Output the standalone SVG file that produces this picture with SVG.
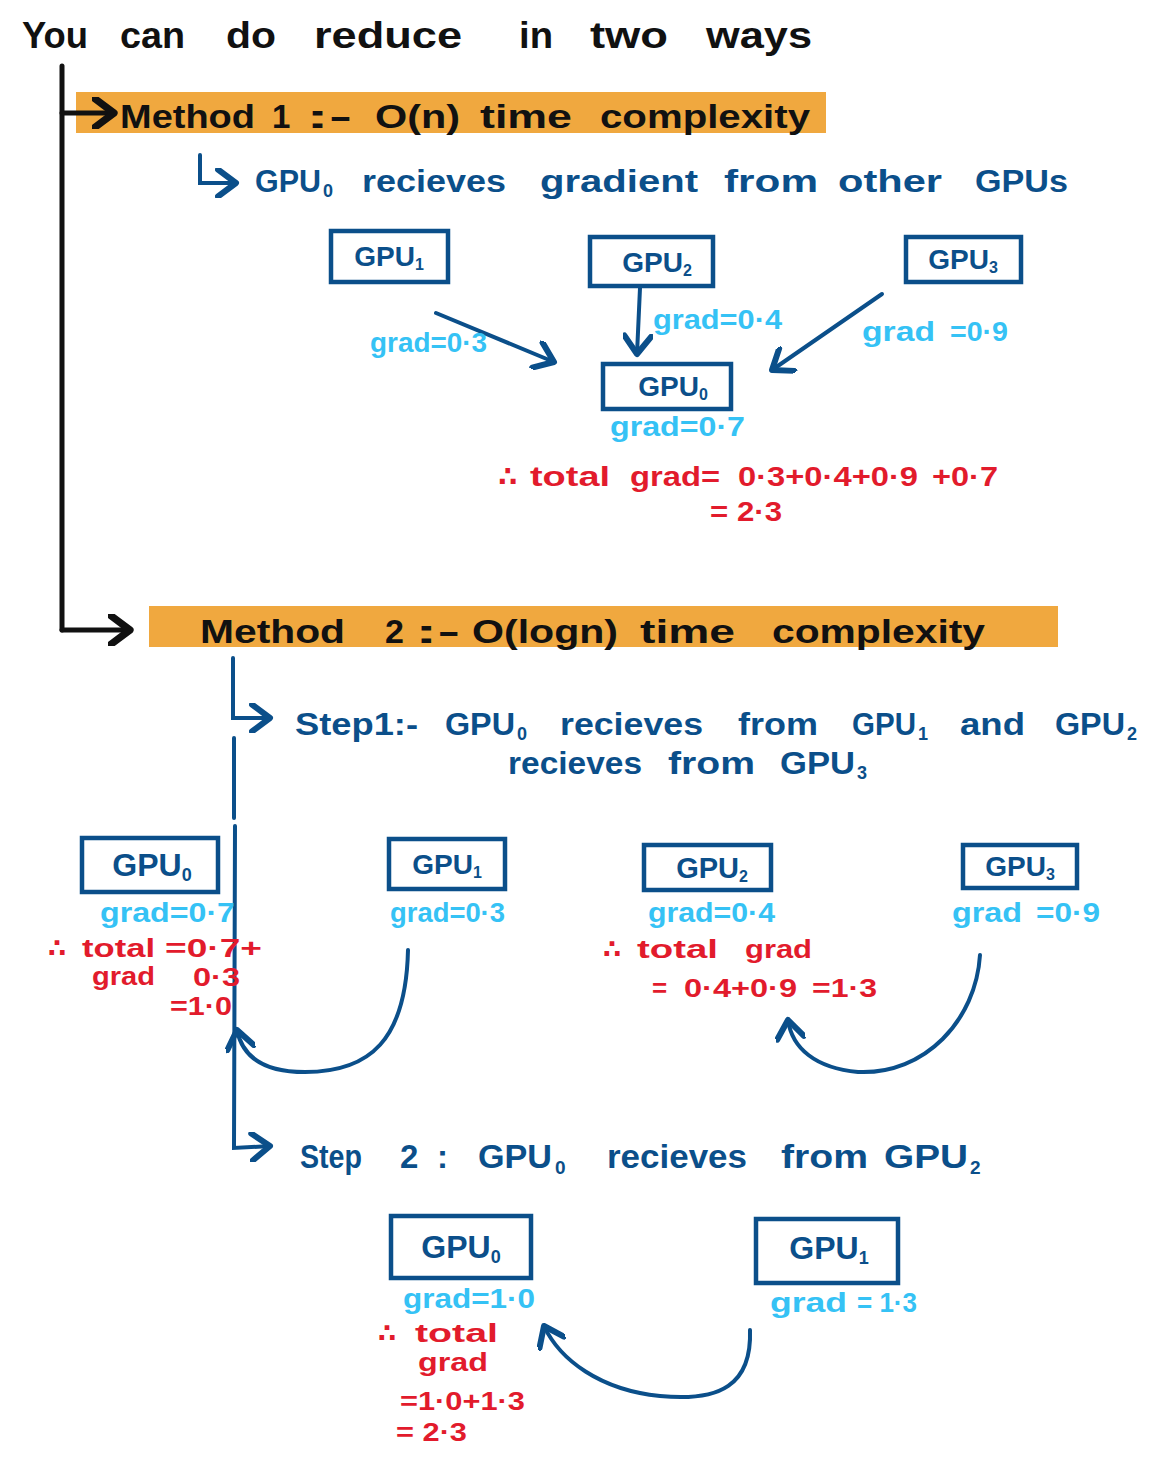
<svg xmlns="http://www.w3.org/2000/svg" width="1166" height="1464" viewBox="0 0 1166 1464">
<defs>
<style>
.hand{font-family:"Liberation Sans","DejaVu Sans",sans-serif;font-weight:bold}
.blk{fill:#111111}
.dk{fill:#0b4f8a}
.lt{fill:#35c2f5}
.rd{fill:#e21b2c}
.box{fill:none;stroke:#0b4f8a;stroke-width:4.5}
.con{fill:none;stroke:#0b4f8a;stroke-width:4;stroke-linecap:round}
.bcon{fill:none;stroke:#111111;stroke-width:5;stroke-linecap:round}
.band{fill:#f0a83f}
</style>
<marker id="ab" markerUnits="userSpaceOnUse" markerWidth="30" markerHeight="30" refX="14" refY="10" orient="auto" viewBox="0 0 20 20">
<path d="M2,1 L14,10 L2,19" fill="none" stroke="#0b4f8a" stroke-width="4" stroke-linecap="round" stroke-linejoin="round"/>
</marker>
<marker id="ak" markerUnits="userSpaceOnUse" markerWidth="32" markerHeight="32" refX="14" refY="10" orient="auto" viewBox="0 0 20 20">
<path d="M2,1 L14,10 L2,19" fill="none" stroke="#111111" stroke-width="4.5" stroke-linecap="round" stroke-linejoin="round"/>
</marker>
</defs>
<rect width="1166" height="1464" fill="#ffffff"/>

<g id="title" class="hand blk" font-size="36">
<text x="22" y="48" textLength="66" lengthAdjust="spacingAndGlyphs">You</text>
<text x="120" y="48" textLength="65" lengthAdjust="spacingAndGlyphs">can</text>
<text x="226" y="48" textLength="50" lengthAdjust="spacingAndGlyphs">do</text>
<text x="314" y="48" textLength="148" lengthAdjust="spacingAndGlyphs">reduce</text>
<text x="519" y="48" textLength="34" lengthAdjust="spacingAndGlyphs">in</text>
<text x="590" y="48" textLength="78" lengthAdjust="spacingAndGlyphs">two</text>
<text x="706" y="48" textLength="106" lengthAdjust="spacingAndGlyphs">ways</text>
</g>

<rect class="band" x="76" y="92" width="750" height="41"/>
<rect class="band" x="149" y="606" width="909" height="41"/>

<g id="connectors">
<path class="bcon" d="M62,66 L62,630"/>
<path class="bcon" d="M62,113 L114,113" marker-end="url(#ak)"/>
<path class="bcon" d="M62,630 L130,630" marker-end="url(#ak)"/>
<path class="con" d="M200,155 L200,183 L236,183" marker-end="url(#ab)"/>
<path class="con" d="M436,313 L554,362" marker-end="url(#ab)"/>
<path class="con" d="M640,288 L637,354" marker-end="url(#ab)"/>
<path class="con" d="M882,294 L772,370" marker-end="url(#ab)"/>
<path class="con" d="M233,658 L233,718 L270,718" marker-end="url(#ab)"/>
<path class="con" d="M234,738 L234,818"/>
<path class="con" d="M235,826 L234,1148 L270,1146" marker-end="url(#ab)"/>
<path class="con" d="M408,950 C406,1040 370,1072 305,1072 C262,1072 242,1055 237,1030" marker-end="url(#ab)"/>
<path class="con" d="M980,955 C976,1020 925,1075 858,1072 C815,1068 792,1048 788,1020" marker-end="url(#ab)"/>
<path class="con" d="M750,1330 C752,1385 720,1402 660,1396 C600,1390 560,1360 544,1326" marker-end="url(#ab)"/>
</g>

<g id="method1-title" class="hand blk" font-size="33">
<text x="120" y="128" textLength="135" lengthAdjust="spacingAndGlyphs">Method</text>
<text x="272" y="128">1</text>
<text x="306" y="128" textLength="46" lengthAdjust="spacingAndGlyphs">:-</text>
<text x="375" y="128" textLength="85" lengthAdjust="spacingAndGlyphs">O(n)</text>
<text x="480" y="128" textLength="92" lengthAdjust="spacingAndGlyphs">time</text>
<text x="600" y="128" textLength="210" lengthAdjust="spacingAndGlyphs">complexity</text>
</g>

<g id="method1-desc" class="hand dk" font-size="31">
<text x="255" y="192" textLength="66" lengthAdjust="spacingAndGlyphs">GPU</text>
<text x="323" y="197" font-size="18">0</text>
<text x="362" y="192" textLength="144" lengthAdjust="spacingAndGlyphs">recieves</text>
<text x="540" y="192" textLength="158" lengthAdjust="spacingAndGlyphs">gradient</text>
<text x="724" y="192" textLength="94" lengthAdjust="spacingAndGlyphs">from</text>
<text x="838" y="192" textLength="104" lengthAdjust="spacingAndGlyphs">other</text>
<text x="975" y="192" textLength="93" lengthAdjust="spacingAndGlyphs">GPUs</text>
</g>

<g id="m1-gpu1">
<rect class="box" x="331" y="231" width="117" height="51"/>
<text class="hand dk" x="389" y="266" font-size="28" text-anchor="middle">GPU<tspan font-size="16" dy="4">1</tspan></text>
</g>
<g id="m1-gpu2">
<rect class="box" x="590" y="237" width="123" height="49"/>
<text class="hand dk" x="657" y="272" font-size="28" text-anchor="middle">GPU<tspan font-size="16" dy="4">2</tspan></text>
</g>
<g id="m1-gpu3">
<rect class="box" x="906" y="237" width="115" height="45"/>
<text class="hand dk" x="963" y="269" font-size="28" text-anchor="middle">GPU<tspan font-size="16" dy="4">3</tspan></text>
</g>
<g id="m1-gpu0">
<rect class="box" x="603" y="364" width="128" height="45"/>
<text class="hand dk" x="673" y="396" font-size="28" text-anchor="middle">GPU<tspan font-size="16" dy="4">0</tspan></text>
</g>
<g id="m1-labels" class="hand lt" font-size="27">
<text x="370" y="352" textLength="117" lengthAdjust="spacingAndGlyphs">grad=0·3</text>
<text x="653" y="329" textLength="129" lengthAdjust="spacingAndGlyphs">grad=0·4</text>
<text x="862" y="341" textLength="73" lengthAdjust="spacingAndGlyphs">grad</text>
<text x="950" y="341" textLength="58" lengthAdjust="spacingAndGlyphs">=0·9</text>
<text x="610" y="436" textLength="135" lengthAdjust="spacingAndGlyphs">grad=0·7</text>
</g>
<g id="m1-total" class="hand rd" font-size="28">
<text x="498" y="486">∴</text>
<text x="530" y="486" textLength="80" lengthAdjust="spacingAndGlyphs">total</text>
<text x="630" y="486" textLength="90" lengthAdjust="spacingAndGlyphs">grad=</text>
<text x="738" y="486" textLength="180" lengthAdjust="spacingAndGlyphs">0·3+0·4+0·9</text>
<text x="932" y="486" textLength="66" lengthAdjust="spacingAndGlyphs">+0·7</text>
<text x="710" y="521" textLength="72" lengthAdjust="spacingAndGlyphs">= 2·3</text>
</g>

<g id="method2-title" class="hand blk" font-size="34">
<text x="200" y="643" textLength="145" lengthAdjust="spacingAndGlyphs">Method</text>
<text x="385" y="643">2</text>
<text x="415" y="643" textLength="45" lengthAdjust="spacingAndGlyphs">:-</text>
<text x="472" y="643" textLength="146" lengthAdjust="spacingAndGlyphs">O(logn)</text>
<text x="640" y="643" textLength="95" lengthAdjust="spacingAndGlyphs">time</text>
<text x="772" y="643" textLength="213" lengthAdjust="spacingAndGlyphs">complexity</text>
</g>

<g id="step1-desc" class="hand dk" font-size="31">
<text x="295" y="735" textLength="123" lengthAdjust="spacingAndGlyphs">Step1:-</text>
<text x="445" y="735" textLength="70" lengthAdjust="spacingAndGlyphs">GPU</text>
<text x="517" y="740" font-size="18">0</text>
<text x="560" y="735" textLength="143" lengthAdjust="spacingAndGlyphs">recieves</text>
<text x="738" y="735" textLength="80" lengthAdjust="spacingAndGlyphs">from</text>
<text x="852" y="735" textLength="64" lengthAdjust="spacingAndGlyphs">GPU</text>
<text x="918" y="740" font-size="18">1</text>
<text x="960" y="735" textLength="65" lengthAdjust="spacingAndGlyphs">and</text>
<text x="1055" y="735" textLength="70" lengthAdjust="spacingAndGlyphs">GPU</text>
<text x="1127" y="740" font-size="18">2</text>
<text x="508" y="774" textLength="134" lengthAdjust="spacingAndGlyphs">recieves</text>
<text x="668" y="774" textLength="87" lengthAdjust="spacingAndGlyphs">from</text>
<text x="780" y="774" textLength="75" lengthAdjust="spacingAndGlyphs">GPU</text>
<text x="857" y="779" font-size="18">3</text>
</g>

<g id="s1-gpu0">
<rect class="box" x="82" y="838" width="136" height="54"/>
<text class="hand dk" x="152" y="876" font-size="32" text-anchor="middle">GPU<tspan font-size="18" dy="5">0</tspan></text>
</g>
<g id="s1-gpu0-labels" class="hand" font-size="26">
<text class="lt" x="100" y="922" font-size="27" textLength="135" lengthAdjust="spacingAndGlyphs">grad=0·7</text>
<text class="rd" x="48" y="957">∴</text>
<text class="rd" x="82" y="957" textLength="73" lengthAdjust="spacingAndGlyphs">total</text>
<text class="rd" x="165" y="957" textLength="97" lengthAdjust="spacingAndGlyphs">=0·7+</text>
<text class="rd" x="92" y="985" textLength="63" lengthAdjust="spacingAndGlyphs">grad</text>
<text class="rd" x="193" y="986" textLength="47" lengthAdjust="spacingAndGlyphs">0·3</text>
<text class="rd" x="170" y="1015" textLength="62" lengthAdjust="spacingAndGlyphs">=1·0</text>
</g>

<g id="s1-gpu1">
<rect class="box" x="389" y="839" width="116" height="50"/>
<text class="hand dk" x="447" y="874" font-size="28" text-anchor="middle">GPU<tspan font-size="16" dy="4">1</tspan></text>
</g>
<text class="hand lt" x="390" y="922" font-size="27" textLength="115" lengthAdjust="spacingAndGlyphs">grad=0·3</text>

<g id="s1-gpu2">
<rect class="box" x="644" y="845" width="127" height="45"/>
<text class="hand dk" x="712" y="878" font-size="29" text-anchor="middle">GPU<tspan font-size="16" dy="4">2</tspan></text>
</g>
<g id="s1-gpu2-labels" class="hand" font-size="26">
<text class="lt" x="648" y="922" font-size="27" textLength="127" lengthAdjust="spacingAndGlyphs">grad=0·4</text>
<text class="rd" x="603" y="958">∴</text>
<text class="rd" x="637" y="958" textLength="81" lengthAdjust="spacingAndGlyphs">total</text>
<text class="rd" x="745" y="958" textLength="67" lengthAdjust="spacingAndGlyphs">grad</text>
<text class="rd" x="652" y="997">=</text>
<text class="rd" x="684" y="997" textLength="113" lengthAdjust="spacingAndGlyphs">0·4+0·9</text>
<text class="rd" x="812" y="997" textLength="65" lengthAdjust="spacingAndGlyphs">=1·3</text>
</g>

<g id="s1-gpu3">
<rect class="box" x="963" y="845" width="114" height="43"/>
<text class="hand dk" x="1020" y="876" font-size="28" text-anchor="middle">GPU<tspan font-size="16" dy="4">3</tspan></text>
</g>
<g class="hand lt" font-size="27">
<text x="952" y="922" textLength="70" lengthAdjust="spacingAndGlyphs">grad</text>
<text x="1036" y="922" textLength="64" lengthAdjust="spacingAndGlyphs">=0·9</text>
</g>

<g id="step2-desc" class="hand dk" font-size="33">
<text x="300" y="1168" textLength="62" lengthAdjust="spacingAndGlyphs">Step</text>
<text x="400" y="1168">2</text>
<text x="437" y="1168">:</text>
<text x="478" y="1168" textLength="74" lengthAdjust="spacingAndGlyphs">GPU</text>
<text x="555" y="1174" font-size="19">0</text>
<text x="607" y="1168" textLength="140" lengthAdjust="spacingAndGlyphs">recieves</text>
<text x="781" y="1168" textLength="87" lengthAdjust="spacingAndGlyphs">from</text>
<text x="884" y="1168" textLength="84" lengthAdjust="spacingAndGlyphs">GPU</text>
<text x="970" y="1174" font-size="19">2</text>
</g>

<g id="s2-gpu0">
<rect class="box" x="391" y="1216" width="140" height="62"/>
<text class="hand dk" x="461" y="1258" font-size="32" text-anchor="middle">GPU<tspan font-size="18" dy="5">0</tspan></text>
</g>
<g id="s2-gpu0-labels" class="hand" font-size="26">
<text class="lt" x="403" y="1308" font-size="28" textLength="132" lengthAdjust="spacingAndGlyphs">grad=1·0</text>
<text class="rd" x="378" y="1342">∴</text>
<text class="rd" x="415" y="1342" textLength="83" lengthAdjust="spacingAndGlyphs">total</text>
<text class="rd" x="418" y="1371" textLength="70" lengthAdjust="spacingAndGlyphs">grad</text>
<text class="rd" x="400" y="1410" textLength="125" lengthAdjust="spacingAndGlyphs">=1·0+1·3</text>
<text class="rd" x="396" y="1441" textLength="71" lengthAdjust="spacingAndGlyphs">= 2·3</text>
</g>

<g id="s2-gpu1">
<rect class="box" x="756" y="1219" width="142" height="64"/>
<text class="hand dk" x="829" y="1259" font-size="32" text-anchor="middle">GPU<tspan font-size="18" dy="5">1</tspan></text>
</g>
<g class="hand lt" font-size="28">
<text x="770" y="1312" textLength="77" lengthAdjust="spacingAndGlyphs">grad</text>
<text x="857" y="1312" textLength="60" lengthAdjust="spacingAndGlyphs">= 1·3</text>
</g>
</svg>
